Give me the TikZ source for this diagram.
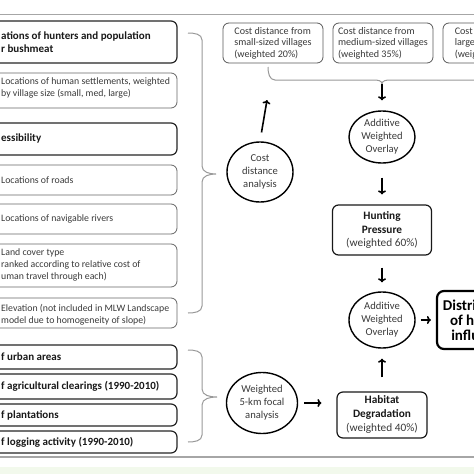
\documentclass[tikz,border=0pt]{standalone}
\usepackage{fontspec}
\setmainfont{Carlito}
\usetikzlibrary{shapes.geometric,arrows.meta}
\definecolor{txtc}{HTML}{3A3A3A}
\definecolor{bandc}{HTML}{F2F9EC}
\tikzset{
  hdrbox/.style={draw=black!85, line width=1.2pt, rounded corners=6pt, minimum width=197pt, inner sep=0pt},
  subbox/.style={draw=black!60, line width=0.8pt, rounded corners=6pt, minimum width=197pt, inner sep=0pt},
  ltxt/.style={anchor=west, align=left, inner sep=0pt, text=txtc, font=\fontsize{9.8}{12}\selectfont},
  btxt/.style={anchor=west, align=left, inner sep=0pt, text=black!90, font=\fontsize{11}{13}\selectfont\bfseries},
  topbox/.style={draw=black!65, line width=0.8pt, rounded corners=6pt, minimum width=100pt, minimum height=40pt, align=left, inner sep=0pt, text=txtc, font=\fontsize{10.1}{11.5}\selectfont},
  circ/.style={ellipse, draw=black, line width=1.4pt, inner sep=0pt, align=center, text=txtc, font=\fontsize{10.6}{13}\selectfont},
  resbox/.style={draw=black!90, line width=1.2pt, rounded corners=6pt, align=center, inner sep=0pt, text=txtc},
  brace/.style={draw=black!40, line width=1pt},
  arr/.style={-{To[length=4pt,width=8pt]}, line width=1.6pt, black},
}
\begin{document}
\begin{tikzpicture}[x=1pt,y=-1pt]
\useasboundingbox (0,0) rectangle (474,474);
\clip (0,0) rectangle (474,474);
\fill[white] (0,0) rectangle (474,474);
% frame lines and band
\draw[black!35, line width=1pt] (0,14) -- (474,14);
\draw[black!35, line width=1.2pt] (0,457) -- (474,457);
\fill[bandc] (0,467) rectangle (474,474);

% left boxes
\node[hdrbox, minimum height=42pt] (b1) at (78.5,42) {};
\node[btxt] (t1) at (1,42.5) {ations of hunters and population\\r bushmeat};
\node[subbox, minimum height=35pt] (b2) at (78.5,90.5) {};
\node[ltxt] (t2) at (1,88) {Locations of human settlements,  weighted\\by village size (small, med,  large)};
\node[hdrbox, minimum height=32pt] (b3) at (78.5,139) {};
\node[btxt] (t3) at (1,139) {essibility};
\node[subbox, minimum height=30pt] (b4) at (78.5,180) {};
\node[ltxt] (t4) at (1,180) {Locations of roads};
\node[subbox, minimum height=30pt] (b5) at (78.5,219) {};
\node[ltxt] (t5) at (1,219) {Locations of navigable rivers};
\node[subbox, minimum height=43pt] (b6) at (78.5,265.5) {};
\node[ltxt] (t6) at (1,265) {Land cover type\\ranked according to relative cost of\\uman travel through each)};
\node[subbox, minimum height=30pt] (b7) at (78.5,313) {};
\node[ltxt] (t7) at (1,315) {Elevation  (not included in MLW Landscape\\model due to homogeneity of slope)};
\node[hdrbox, minimum height=24pt] (b8) at (78.5,357) {};
\node[btxt] (t8) at (1,357) {f urban areas};
\node[hdrbox, minimum height=25pt] (b9) at (78.5,386.5) {};
\node[btxt] (t9) at (1,386.5) {f agricultural clearings (1990-2010)};
\node[hdrbox, minimum height=22pt] (b10) at (78.5,415) {};
\node[btxt] (t10) at (1,415) {f plantations};
\node[hdrbox, minimum height=22pt] (b11) at (78.5,442) {};
\node[btxt] (t11) at (1,442) {f logging activity (1990-2010)};

% braces
\coordinate (tipL1) at (216,174);
\coordinate (tipL2) at (217,397);
\draw[brace] (188,33) to[out=0,in=90] (202,40) -- (202,166) to[out=-90,in=180] (tipL1)
             to[out=180,in=90] (202,182) -- (202,306) to[out=-90,in=0] (188,313);
\draw[brace] (188,350) to[out=0,in=90] (202,357) -- (202,389) to[out=-90,in=180] (tipL2)
             to[out=180,in=90] (202,405) -- (202,435) to[out=-90,in=0] (188,442);

% top boxes
\node[topbox] (c1) at (273,43) {Cost distance from\\small-sized villages\\(weighted  20\%)};
\node[topbox] (c2) at (383,43) {Cost distance from\\medium-sized villages\\(weighted 35\%)};
\node[topbox] (c3) at (493,43) {Cost distance from\\large-sized villages\\(weighted 45\%)};
\coordinate (tipT) at (382,84);
\draw[brace] (268,67) to[out=-90,in=180] (275,80) -- (374,80) to[out=0,in=90] (tipT)
             to[out=90,in=180] (390,80) -- (480,80);

% circles
\node[circ, minimum width=66pt, minimum height=60pt] (cda) at (260,172) {Cost\\distance\\analysis};
\node[circ, minimum width=66pt, minimum height=52pt] (ov1) at (382,137) {Additive\\Weighted\\Overlay};
\node[circ, minimum width=66pt, minimum height=56pt] (ov2) at (382,320) {Additive\\Weighted\\Overlay};
\node[circ, minimum width=71pt, minimum height=61pt] (w5) at (262,403) {Weighted\\5-km focal\\analysis};

% result boxes
\node[resbox, minimum width=99pt, minimum height=50pt, font=\fontsize{11.3}{13.2}\selectfont] (hp) at (382,230)
  {\textbf{\color{black!90}Hunting}\\\textbf{\color{black!90}Pressure}\\(weighted 60\%)};
\node[resbox, minimum width=90pt, minimum height=46pt, font=\fontsize{11.3}{14}\selectfont] (hab) at (382,415)
  {\textbf{\color{black!90}Habitat}\\\textbf{\color{black!90}Degradation}\\(weighted 40\%)};
\node[resbox, draw=black, line width=2.2pt, rounded corners=7pt, minimum width=86pt, minimum height=58pt,
      text=black, font=\fontsize{15}{15}\selectfont\bfseries] (fin) at (480,320)
  {Distribution\\of human\\influence};

% arrows
\coordinate (cdaEnd) at (267,100);
\draw[arr, shorten <=9pt] (cda.north) -- (cdaEnd);
\draw[arr, shorten >=10pt] (tipT) -- (ov1.north);
\draw[arr, shorten <=14pt, shorten >=10pt] (ov1.south) -- (hp.north);
\draw[arr, shorten <=12pt, shorten >=9pt] (hp.south) -- (ov2.north);
\draw[arr, shorten <=5pt, shorten >=5pt] (ov2.east) -- (fin.west);
\draw[arr, shorten <=6pt, shorten >=15pt] (w5.east) -- (w5.east -| hab.west);
\draw[arr, shorten <=14pt, shorten >=10pt] (hab.north) -- (ov2.south);
\end{tikzpicture}
\end{document}
